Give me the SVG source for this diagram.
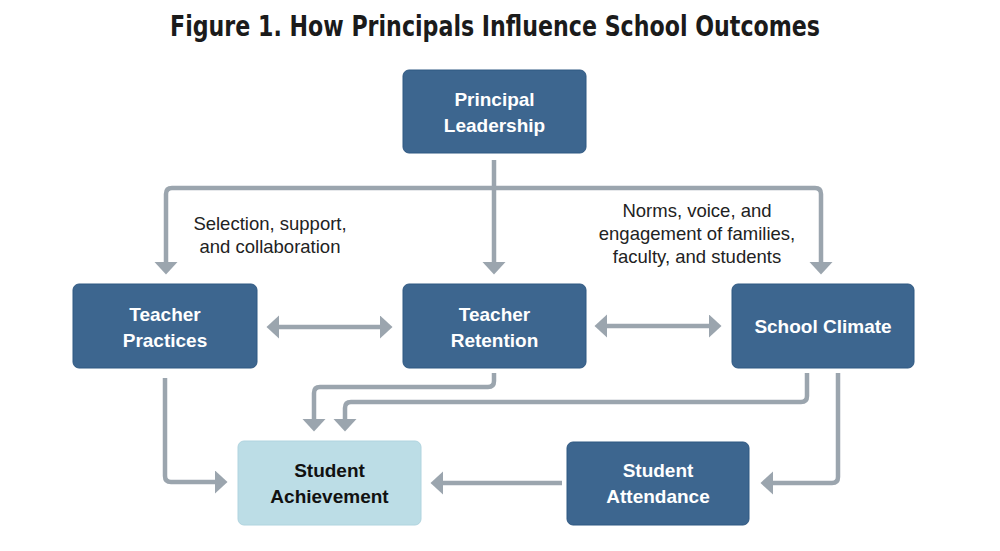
<svg xmlns="http://www.w3.org/2000/svg" width="1000" height="551" viewBox="0 0 1000 551">
  <defs>
    <marker id="ah" markerUnits="userSpaceOnUse" markerWidth="14" markerHeight="24" refX="4" refY="11.5" orient="auto-start-reverse" viewBox="0 0 14 24">
      <path d="M0,0 L12.5,11.5 L0,23 Z" fill="#9ba5ae"/>
    </marker>
  </defs>
  <style>
    .title { font-family: "Liberation Sans Narrow", "DejaVu Sans Condensed", "Roboto Condensed", sans-serif; font-weight: bold; font-size: 29px; fill: #1b1b1b; }
    .box { fill: #3d668f; stroke: #2f5882; stroke-width: 1; }
    .light { fill: #bcdde6; stroke: #b0d4df; stroke-width: 1; }
    .bt { font-family: "Liberation Sans", Arial, sans-serif; font-weight: bold; font-size: 19px; fill: #ffffff; text-anchor: middle; }
    .dt { font-family: "Liberation Sans", Arial, sans-serif; font-weight: bold; font-size: 19px; fill: #111111; text-anchor: middle; }
    .lbl { font-family: "Liberation Sans", Arial, sans-serif; font-size: 18.5px; fill: #222222; text-anchor: middle; }
    .c { fill: none; stroke: #9ba5ae; stroke-width: 4.5; }
    .a { marker-end: url(#ah); }
    .aa { marker-start: url(#ah); marker-end: url(#ah); }
  </style>
  <rect width="1000" height="551" fill="#ffffff"/>
  <text class="title" x="170" y="36" textLength="650" lengthAdjust="spacingAndGlyphs">Figure 1. How Principals Influence School Outcomes</text>

  <g id="connectors">
    <path class="c a" d="M494,160 V266"/>
    <path class="c a" d="M494,188 H172 Q166,188 166,194 V266"/>
    <path class="c a" d="M494,188 H815 Q821,188 821,194 V266"/>
    <path class="c aa" d="M275,327 H384"/>
    <path class="c aa" d="M603,326 H713"/>
    <path class="c a" d="M165,378 V476 Q165,482 171,482 H219"/>
    <path class="c a" d="M494,373 V381 Q494,387 488,387 H320 Q314,387 314,393 V423"/>
    <path class="c a" d="M807,373 V396 Q807,402 801,402 H351 Q345,402 345,408 V423"/>
    <path class="c a" d="M838,373 V477 Q838,483 832,483 H769"/>
    <path class="c a" d="M562,483 H439"/>
  </g>

  <g id="label-selection">
    <text class="lbl" x="270" y="230">Selection, support,</text>
    <text class="lbl" x="270" y="253">and collaboration</text>
  </g>
  <g id="label-norms">
    <text class="lbl" x="697" y="217">Norms, voice, and</text>
    <text class="lbl" x="697" y="240">engagement of families,</text>
    <text class="lbl" x="697" y="263">faculty, and students</text>
  </g>

  <g id="principal-leadership">
    <rect class="box" x="403" y="70" width="183" height="83" rx="6"/>
    <text class="bt" x="494.5" y="105.5">Principal</text>
    <text class="bt" x="494.5" y="131.5">Leadership</text>
  </g>
  <g id="teacher-practices">
    <rect class="box" x="73" y="284" width="184" height="84" rx="6"/>
    <text class="bt" x="165" y="321">Teacher</text>
    <text class="bt" x="165" y="347">Practices</text>
  </g>
  <g id="teacher-retention">
    <rect class="box" x="403" y="284" width="183" height="84" rx="6"/>
    <text class="bt" x="494.5" y="321">Teacher</text>
    <text class="bt" x="494.5" y="347">Retention</text>
  </g>
  <g id="school-climate">
    <rect class="box" x="732" y="284" width="182" height="84" rx="6"/>
    <text class="bt" x="823" y="333">School Climate</text>
  </g>
  <g id="student-achievement">
    <rect class="light" x="238" y="441" width="183" height="84" rx="6"/>
    <text class="dt" x="329.5" y="477">Student</text>
    <text class="dt" x="329.5" y="503">Achievement</text>
  </g>
  <g id="student-attendance">
    <rect class="box" x="567" y="442" width="182" height="83" rx="6"/>
    <text class="bt" x="658" y="477">Student</text>
    <text class="bt" x="658" y="503">Attendance</text>
  </g>
</svg>
